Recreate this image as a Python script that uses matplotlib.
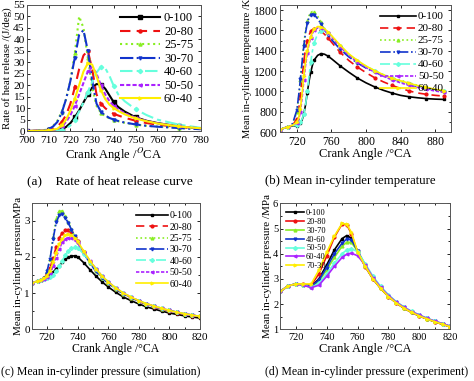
# four panel engine plot: heat release, temperature, pressure (sim + exp)

import matplotlib.pyplot as plt
from matplotlib.ticker import AutoMinorLocator, MultipleLocator
import numpy as np

plt.rcParams['font.family'] = ['Liberation Serif', 'DejaVu Serif']
plt.rcParams['mathtext.fontset'] = 'stix'

# ---------------- data ----------------
# (a) rate of heat release
ca_a = [700, 704, 708, 710, 712, 714, 716, 718, 720, 722, 724, 726, 728, 730,
        732, 734, 736, 738, 740, 742, 745, 750, 755, 760, 770, 780]
labels_a = ["0-100", "20-80", "25-75", "30-70", "40-60", "50-50", "60-40"]
hrr_0_100 = [0, 0.1, 0.2, 0.3, 0.4, 0.5, 0.8, 1.8, 3.5, 6, 9, 12.5, 16, 19, 20.5, 20.3,
             18.5, 15.5, 12.5, 10.5, 8.5, 6, 4.5, 3.5, 2, 1.2]
hrr_20_80 = [0, 0.1, 0.3, 0.5, 1, 2, 4, 7, 12, 19, 27, 33, 35, 27, 16, 12,
             10, 8.5, 7.5, 6.8, 5.8, 4.5, 3.5, 2.8, 1.7, 1.0]
hrr_25_75 = [0, 0.1, 0.4, 0.9, 2.2, 4.5, 8.5, 14, 22, 34, 50, 45, 32, 19, 11, 8,
             6.5, 5.5, 4.8, 4.3, 3.6, 2.8, 2.3, 2, 1.4, 0.9]
hrr_30_70 = [0, 0.1, 0.4, 0.9, 2, 4, 8, 14, 22, 32, 42, 44, 35, 22, 12, 8.5,
             6.8, 5.7, 5, 4.4, 3.7, 2.9, 2.3, 1.9, 1.3, 0.8]
hrr_40_60 = [0, 0, 0.1, 0.1, 0.2, 0.3, 0.5, 1, 2.5, 5, 8.5, 12.5, 17, 21.5, 25.5, 28,
             27.5, 24, 19.5, 16, 13, 9.5, 7, 5, 2.8, 1.4]
hrr_50_50 = [0, 0.1, 0.2, 0.3, 0.5, 0.8, 2, 4, 7, 11, 16, 21, 26, 28, 25, 20,
             16, 13, 11, 9.5, 7.8, 5.8, 4.4, 3.4, 2, 1.2]
hrr_60_40 = [0, 0.1, 0.2, 0.3, 0.6, 1, 2.5, 5, 9, 14, 20, 26, 29.5, 29, 24, 18,
             14, 11.5, 10, 8.8, 7.3, 5.5, 4.3, 3.3, 2, 1.2]

# (b) mean in-cylinder temperature
ca_b = [700, 705, 710, 715, 720, 722, 724, 726, 728, 730, 732, 734, 736, 738, 740,
        744, 748, 752, 756, 760, 770, 780, 790, 800, 810, 820, 830, 840, 850, 860,
        870, 880, 890]
t_0_100 = [625, 640, 655, 660, 665, 672, 690, 720, 780, 870, 990, 1100, 1190, 1260, 1310,
           1355, 1372, 1366, 1347, 1322, 1252, 1190, 1132, 1085, 1045, 1012, 985, 962, 948, 938,
           930, 925, 922]
t_20_80 = [625, 640, 655, 670, 730, 820, 970, 1140, 1300, 1420, 1500, 1555, 1590, 1608, 1617,
           1612, 1592, 1562, 1525, 1485, 1385, 1305, 1240, 1185, 1135, 1095, 1060, 1030, 1005, 985,
           972, 962, 955]
t_25_75 = [625, 640, 655, 680, 800, 940, 1110, 1300, 1470, 1600, 1690, 1745, 1775, 1785, 1780,
           1740, 1680, 1620, 1570, 1530, 1430, 1350, 1290, 1240, 1200, 1165, 1135, 1110, 1085, 1060,
           1040, 1020, 1005]
t_30_70 = [625, 640, 655, 685, 820, 960, 1120, 1290, 1450, 1580, 1670, 1725, 1752, 1762, 1755,
           1715, 1660, 1605, 1555, 1510, 1415, 1340, 1280, 1230, 1190, 1155, 1125, 1095, 1070, 1048,
           1030, 1012, 998]
t_40_60 = [625, 640, 655, 662, 672, 682, 700, 730, 780, 870, 1000, 1150, 1290, 1400, 1480,
           1565, 1598, 1595, 1575, 1545, 1450, 1365, 1300, 1250, 1205, 1165, 1130, 1100, 1075, 1055,
           1035, 1020, 1005]
t_50_50 = [625, 640, 655, 668, 695, 720, 800, 940, 1110, 1260, 1375, 1465, 1530, 1570, 1600,
           1625, 1620, 1600, 1570, 1535, 1440, 1355, 1290, 1235, 1190, 1150, 1115, 1085, 1060, 1040,
           1022, 1005, 992]
t_60_40 = [625, 640, 655, 668, 700, 740, 830, 980, 1150, 1290, 1400, 1480, 1540, 1580, 1610,
           1638, 1635, 1615, 1585, 1550, 1455, 1370, 1305, 1250, 1205, 1165, 1130, 1105, 1080, 1058,
           1040, 1022, 1008]

# (c) mean in-cylinder pressure, simulation
ca_c = [710, 714, 716, 718, 720, 722, 724, 726, 728, 730, 732, 734, 736, 738, 740,
        744, 748, 752, 756, 760, 765, 770, 775, 780, 785, 790, 795, 800, 805, 810, 815, 820]
ps_0_100 = [1.28, 1.33, 1.36, 1.39, 1.43, 1.5, 1.58, 1.67, 1.76, 1.85, 1.93, 1.99, 2.02, 2.03, 2.0,
            1.84, 1.65, 1.47, 1.31, 1.17, 1.02, 0.89, 0.79, 0.7, 0.62, 0.56, 0.5, 0.45, 0.41, 0.37, 0.34, 0.31]
ps_20_80 = [1.28, 1.33, 1.36, 1.42, 1.52, 1.7, 1.98, 2.28, 2.52, 2.67, 2.75, 2.75, 2.68, 2.56, 2.43,
            2.14, 1.87, 1.63, 1.44, 1.28, 1.12, 0.98, 0.87, 0.77, 0.69, 0.62, 0.56, 0.51, 0.46, 0.42, 0.38, 0.35]
ps_25_75 = [1.28, 1.33, 1.36, 1.42, 1.58, 1.95, 2.55, 3.05, 3.28, 3.26, 3.12, 2.95, 2.76, 2.58, 2.42,
            2.1, 1.83, 1.6, 1.42, 1.27, 1.11, 0.98, 0.87, 0.78, 0.7, 0.63, 0.57, 0.52, 0.47, 0.43, 0.39, 0.36]
ps_30_70 = [1.28, 1.33, 1.36, 1.43, 1.6, 1.95, 2.5, 2.95, 3.15, 3.18, 3.08, 2.93, 2.75, 2.58, 2.42,
            2.1, 1.83, 1.6, 1.42, 1.27, 1.11, 0.98, 0.87, 0.78, 0.7, 0.63, 0.57, 0.52, 0.47, 0.43, 0.39, 0.36]
ps_40_60 = [1.28, 1.33, 1.36, 1.38, 1.41, 1.44, 1.5, 1.6, 1.74, 1.9, 2.05, 2.17, 2.24, 2.27, 2.25,
            2.08, 1.87, 1.66, 1.47, 1.31, 1.14, 1.0, 0.89, 0.79, 0.71, 0.64, 0.58, 0.52, 0.47, 0.43, 0.39, 0.36]
ps_50_50 = [1.28, 1.33, 1.36, 1.4, 1.45, 1.55, 1.75, 1.98, 2.22, 2.4, 2.5, 2.53, 2.52, 2.47, 2.38,
            2.14, 1.9, 1.67, 1.47, 1.31, 1.14, 1.0, 0.89, 0.79, 0.71, 0.64, 0.58, 0.52, 0.47, 0.43, 0.39, 0.36]
ps_60_40 = [1.28, 1.33, 1.36, 1.41, 1.48, 1.62, 1.85, 2.1, 2.35, 2.5, 2.6, 2.62, 2.6, 2.53, 2.43,
            2.16, 1.9, 1.67, 1.47, 1.31, 1.14, 1.0, 0.89, 0.79, 0.71, 0.64, 0.58, 0.52, 0.47, 0.43, 0.39, 0.36]

# (d) mean in-cylinder pressure, experiment
ca_d = [710, 715, 720, 725, 730, 735, 740, 745, 750, 753, 756, 760, 765, 770, 775,
        780, 785, 790, 795, 800, 805, 810, 815, 820]
labels_d = ["0-100", "20-80", "30-70", "40-60", "50-50", "60-40", "70-30"]
pe_0_100 = [2.5, 2.72, 2.8, 2.77, 2.7, 3.0, 3.55, 4.15, 4.6, 4.72, 4.62, 4.1, 3.5, 3.0, 2.62,
            2.3, 2.05, 1.84, 1.67, 1.53, 1.41, 1.3, 1.2, 1.1]
pe_20_80 = [2.5, 2.72, 2.8, 2.78, 2.75, 3.2, 3.9, 4.65, 5.18, 5.15, 4.8, 4.05, 3.48, 3.0, 2.62,
            2.3, 2.05, 1.84, 1.67, 1.53, 1.41, 1.3, 1.2, 1.1]
pe_30_70 = [2.5, 2.72, 2.8, 2.77, 2.68, 2.9, 3.35, 3.85, 4.3, 4.45, 4.45, 4.1, 3.52, 3.02, 2.64,
            2.32, 2.07, 1.86, 1.69, 1.55, 1.42, 1.31, 1.21, 1.11]
pe_40_60 = [2.5, 2.72, 2.8, 2.77, 2.7, 2.95, 3.45, 4.0, 4.42, 4.58, 4.55, 4.12, 3.55, 3.05, 2.66,
            2.34, 2.08, 1.87, 1.7, 1.56, 1.43, 1.32, 1.22, 1.12]
pe_50_50 = [2.5, 2.72, 2.8, 2.76, 2.66, 2.82, 3.2, 3.62, 4.0, 4.15, 4.2, 4.08, 3.6, 3.1, 2.7,
            2.37, 2.1, 1.89, 1.71, 1.57, 1.44, 1.33, 1.22, 1.12]
pe_60_40 = [2.5, 2.72, 2.8, 2.75, 2.65, 2.75, 3.1, 3.5, 3.85, 3.98, 4.02, 3.92, 3.55, 3.05, 2.66,
            2.34, 2.08, 1.87, 1.7, 1.56, 1.43, 1.32, 1.22, 1.12]
pe_70_30 = [2.5, 2.72, 2.8, 2.8, 2.8, 3.35, 4.05, 4.7, 5.2, 5.17, 4.85, 4.08, 3.5, 3.0, 2.62,
            2.3, 2.05, 1.84, 1.67, 1.53, 1.41, 1.3, 1.2, 1.1]

# ---------------- styles ----------------
colors = ['black', '#ee1111', '#88ee22', '#1133cc', '#66ffdd', '#aa22ff', '#ffee00']
lstyles = ['-', (0, (5, 3)), ':', '-.', (0, (6, 2, 2, 2)), (0, (2, 1)), '-']
markers = ['s', 'o', '^', 'v', 'D', '<', '>']

fig = plt.figure(figsize=(4.74, 3.81), dpi=100)

ax_a = fig.add_axes([0.057, 0.656, 0.3665, 0.331])
ax_b = fig.add_axes([0.590, 0.653, 0.3607, 0.334])
ax_c = fig.add_axes([0.0669, 0.1357, 0.355, 0.3307])
ax_d = fig.add_axes([0.5913, 0.1357, 0.3586, 0.3307])


def style_axes(ax, fs, xpad=2.5):
    ax.tick_params(direction='in', top=True, right=True, which='both', labelsize=fs,
                   length=2.5, width=0.6, pad=1.5)
    ax.tick_params(which='minor', length=1.5)
    ax.tick_params(axis='x', pad=xpad)
    for s in ax.spines.values():
        s.set_linewidth(0.7)
        s.set_color('#555555')


# (a)
series_a = [hrr_0_100, hrr_20_80, hrr_25_75, hrr_30_70, hrr_40_60, hrr_50_50, hrr_60_40]
for i, y in enumerate(series_a):
    ax_a.plot(ca_a, y, color=colors[i], ls=lstyles[i], lw=1.5, marker=markers[i],
              ms=2.2, markevery=3, label=labels_a[i])
ax_a.set_xlim(700, 780)
ax_a.set_ylim(0, 55)
ax_a.xaxis.set_major_locator(MultipleLocator(10))
ax_a.yaxis.set_major_locator(MultipleLocator(5))
style_axes(ax_a, 8.2, xpad=3.5)
ax_a.set_xlabel("Crank Angle /$^{O}$CA", fontsize=9, labelpad=1)
ax_a.set_ylabel("Rate of heat release /(J/deg)", fontsize=7.8, labelpad=1)
ax_a.legend(loc='upper right', frameon=False, fontsize=9, handlelength=3.2,
            labelspacing=0.12, borderaxespad=0.2, handletextpad=0.3)

# (b)
series_b = [t_0_100, t_20_80, t_25_75, t_30_70, t_40_60, t_50_50, t_60_40]
for i, y in enumerate(series_b):
    ax_b.plot(ca_b, y, color=colors[i], ls=lstyles[i], lw=1.2, marker=markers[i],
              ms=2, markevery=2, label=labels_a[i])
ax_b.set_xlim(700, 898)
ax_b.set_ylim(600, 1850)
ax_b.xaxis.set_major_locator(MultipleLocator(40))
ax_b.yaxis.set_major_locator(MultipleLocator(200))
ax_b.yaxis.set_minor_locator(AutoMinorLocator(2))
style_axes(ax_b, 8.5)
ax_b.set_xlabel("Crank Angle /°CA", fontsize=9, labelpad=0)
ax_b.set_ylabel("Mean in-cylinder temperature /K", fontsize=7.6, labelpad=1)
ax_b.legend(loc='upper right', frameon=False, fontsize=8, handlelength=3.2,
            labelspacing=0.2, borderaxespad=0.2, handletextpad=0.2)

# (c)
series_c = [ps_0_100, ps_20_80, ps_25_75, ps_30_70, ps_40_60, ps_50_50, ps_60_40]
for i, y in enumerate(series_c):
    ax_c.plot(ca_c, y, color=colors[i], ls=lstyles[i], lw=1.2, marker=markers[i],
              ms=2, markevery=1, label=labels_a[i])
ax_c.set_xlim(710, 820)
ax_c.set_ylim(0, 3.48)
ax_c.xaxis.set_major_locator(MultipleLocator(20))
ax_c.xaxis.set_minor_locator(AutoMinorLocator(2))
ax_c.yaxis.set_major_locator(MultipleLocator(1))
ax_c.yaxis.set_minor_locator(AutoMinorLocator(2))
style_axes(ax_c, 8)
ax_c.set_xlabel("Crank Angle /°CA", fontsize=8.5, labelpad=1)
ax_c.set_ylabel("Mean in-cylinder pressureMPa", fontsize=8, labelpad=1)
ax_c.legend(loc='upper right', frameon=False, fontsize=7, handlelength=3.2,
            labelspacing=0.25, borderaxespad=0.4, handletextpad=0.2)

# (d)
series_d = [pe_0_100, pe_20_80, pe_30_70, pe_40_60, pe_50_50, pe_60_40, pe_70_30]
for i, y in enumerate(series_d):
    ax_d.plot(ca_d, y, color=colors[i], ls='-', lw=1.2, marker=markers[i],
              ms=2, markevery=1, label=labels_d[i])
ax_d.set_xlim(710, 820)
ax_d.set_ylim(1, 6)
ax_d.xaxis.set_major_locator(MultipleLocator(20))
ax_d.xaxis.set_minor_locator(AutoMinorLocator(2))
ax_d.yaxis.set_major_locator(MultipleLocator(1))
ax_d.yaxis.set_minor_locator(AutoMinorLocator(2))
style_axes(ax_d, 7.5)
ax_d.set_xlabel("Crank Angle /°CA", fontsize=9, labelpad=1)
ax_d.set_ylabel("Mean in-cylinder pressure /MPa", fontsize=8, labelpad=1)
ax_d.legend(loc='upper left', frameon=False, fontsize=6, handlelength=2.2,
            labelspacing=0.1, borderaxespad=0.3, handletextpad=0.2)

# captions
fig.text(110 / 474, 1 - 181 / 381, "(a)    Rate of heat release curve", ha='center',
         va='center', fontsize=9.5)
fig.text(350 / 474, 1 - 181 / 381, "(b) Mean in-cylinder temperature", ha='center',
         va='center', fontsize=9.2)
fig.text(101 / 474, 1 - 372 / 381, "(c) Mean in-cylinder pressure (simulation)", ha='center',
         va='center', fontsize=8.5)
fig.text(367 / 474, 1 - 372 / 381, "(d) Mean in-cylinder pressure (experiment)", ha='center',
         va='center', fontsize=8.5)

fig.savefig("out.png", dpi=100)
plt.close(fig)
